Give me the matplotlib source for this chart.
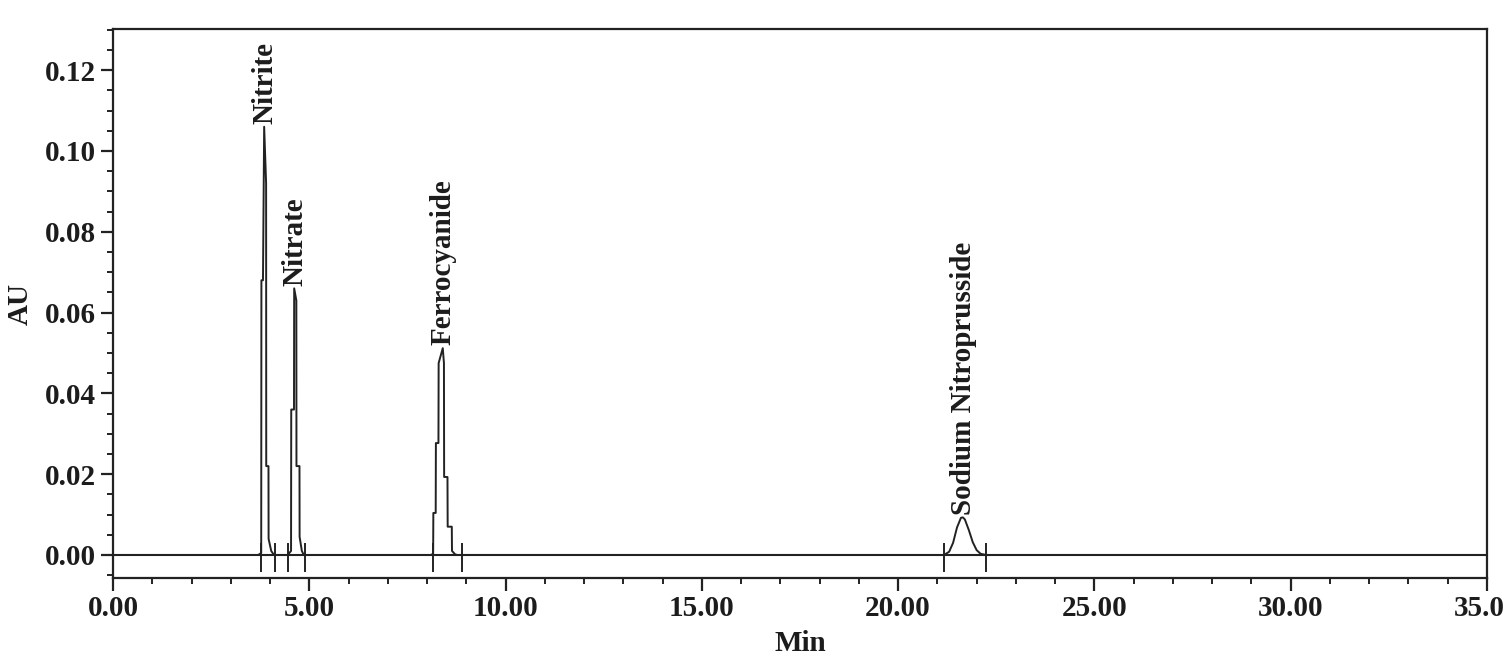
import numpy as np
import matplotlib
matplotlib.use("Agg")
import matplotlib.pyplot as plt
from matplotlib.ticker import MultipleLocator, FormatStrFormatter

# ---------------- data ----------------
compound_names = ["Nitrite", "Nitrate", "Ferrocyanide", "Sodium Nitroprusside"]

nitrite_min = [3.70, 3.775, 3.78, 3.82, 3.85, 3.90, 3.903, 3.96, 3.963, 4.03, 4.10]
nitrite_au = [0.0, 0.0005, 0.068, 0.068, 0.106, 0.092, 0.022, 0.022, 0.004, 0.001, 0.0]

nitrate_min = [4.45, 4.535, 4.54, 4.61, 4.615, 4.67, 4.673, 4.75, 4.753, 4.81, 4.86]
nitrate_au = [0.0, 0.001, 0.036, 0.036, 0.066, 0.063, 0.022, 0.022, 0.0045, 0.001, 0.0]

ferro_min = [8.10, 8.155, 8.16, 8.22, 8.225, 8.29, 8.295, 8.40, 8.43, 8.435, 8.52, 8.525,
             8.63, 8.635, 8.71, 8.76]
ferro_au = [0.0, 0.0003, 0.0104, 0.0104, 0.0277, 0.0277, 0.0475, 0.0512, 0.0475, 0.0193,
            0.0193, 0.007, 0.007, 0.001, 0.0002, 0.0]

snp_min = [21.17, 21.30, 21.40, 21.50, 21.60, 21.65, 21.70, 21.80, 21.90, 22.00, 22.10, 22.24]
snp_au = [0.0, 0.0008, 0.003, 0.0068, 0.0092, 0.0093, 0.0088, 0.0062, 0.0032, 0.0012, 0.0003, 0.0]

# integration start / end markers (min)
peak_start = [3.76, 4.46, 8.14, 21.17]
peak_end = [4.13, 4.90, 8.88, 22.24]

run_start, run_end = 0.0, 35.0

# ---------------- figure ----------------
font = "Liberation Serif"
txt_col = "#1c1c1c"
plt.rcParams["font.family"] = [font, "DejaVu Serif"]
plt.rcParams["font.weight"] = "bold"

fig = plt.figure(figsize=(15.05, 6.62), dpi=100)
ax = fig.add_axes([0.0751, 0.1269, 0.988 - 0.0751, 0.9562 - 0.1269])

peaks_t = [nitrite_min, nitrate_min, ferro_min, snp_min]
peaks_y = [nitrite_au, nitrate_au, ferro_au, snp_au]

trace_t = [run_start]
trace_y = [0.0]
for t, y in zip(peaks_t, peaks_y):
    trace_t += list(t)
    trace_y += list(y)
trace_t.append(run_end)
trace_y.append(0.0)

ax.axhline(0.0, color="#222222", lw=1.5, zorder=2)
ax.plot(trace_t, trace_y, color="#222222", lw=1.4, zorder=3)
ax.vlines(peak_start + peak_end, -0.0042, 0.003, color="#222222", lw=1.4, zorder=3)

for name, t, y in zip(compound_names, peaks_t, peaks_y):
    i = int(np.argmax(y))
    ax.annotate(name, xy=(t[i], y[i]), xytext=(0.5, 2), textcoords="offset points",
                rotation=90, ha="center", va="bottom", fontsize=21,
                fontweight="bold", color=txt_col, family=font)

ax.set_xlim(0, 35)
ax.set_ylim(-0.0057, 0.1302)
ax.xaxis.set_major_locator(MultipleLocator(5))
ax.xaxis.set_minor_locator(MultipleLocator(1))
ax.yaxis.set_major_locator(MultipleLocator(0.02))
ax.yaxis.set_minor_locator(MultipleLocator(0.005))
ax.xaxis.set_major_formatter(FormatStrFormatter("%.2f"))
ax.yaxis.set_major_formatter(FormatStrFormatter("%.2f"))

ax.tick_params(axis="both", which="major", direction="out", length=9, width=1.6,
               labelsize=21, colors="#222222", labelcolor=txt_col, pad=3)
ax.tick_params(axis="both", which="minor", direction="out", length=4.5, width=1.4,
               colors="#222222")
ax.tick_params(top=False, right=False, which="both")
for lab in ax.get_xticklabels() + ax.get_yticklabels():
    lab.set_fontweight("bold")
    lab.set_family(font)

for s in ax.spines.values():
    s.set_linewidth(1.6)
    s.set_color("#222222")

ax.set_xlabel("Min", fontsize=21, fontweight="bold", color=txt_col, family=font, labelpad=6)
ax.set_ylabel("AU", fontsize=21, fontweight="bold", color=txt_col, family=font, labelpad=8)

fig.savefig("out.png", dpi=100)
